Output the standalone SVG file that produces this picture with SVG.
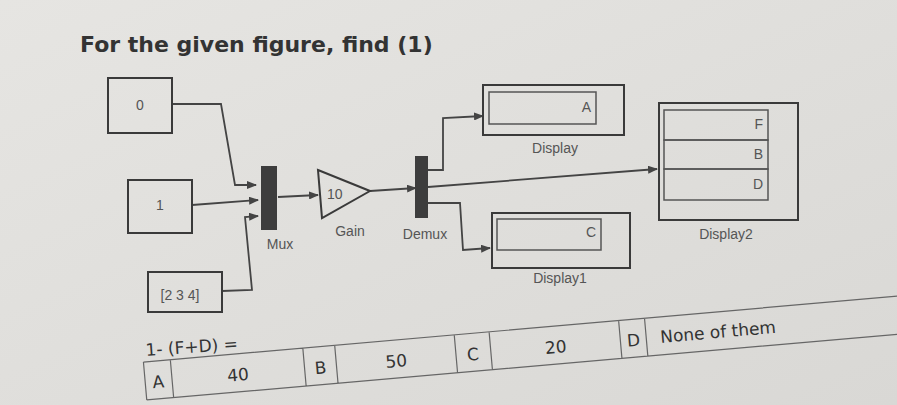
<svg xmlns="http://www.w3.org/2000/svg" width="897" height="405" viewBox="0 0 897 405">
<defs>
<marker id="ar" markerWidth="10" markerHeight="8" refX="9" refY="4" orient="auto" markerUnits="userSpaceOnUse"><path d="M0,0 L10,4 L0,8 Z" fill="#444"/></marker>
<linearGradient id="bg" x1="0" y1="0" x2="1" y2="1"><stop offset="0" stop-color="#e6e5e2"/><stop offset="1" stop-color="#d9d8d5"/></linearGradient>
</defs>
<style>
.b{fill:none;stroke:#3a3a3a;stroke-width:2}
.i{fill:none;stroke:#555;stroke-width:1.5}
.w{stroke:#444;stroke-width:1.8;fill:none}
.t{font-family:"Liberation Sans",Arial,sans-serif;fill:#333}
.s{font-family:"Liberation Sans",Arial,sans-serif;fill:#555;font-size:14px}
.tb{font-family:"DejaVu Sans",sans-serif;fill:#333;font-size:17px}
</style>
<rect width="897" height="405" fill="url(#bg)"/>
<text x="80" y="52" font-size="22" font-weight="bold" fill="#333" style="font-family:'DejaVu Sans',sans-serif">For the given figure, find (1)</text>
<g id="connectors">
<path class="w" d="M172,104 L221,104 L235,185 L256,185" marker-end="url(#ar)"/>
<path class="w" d="M192,205 L258,200" marker-end="url(#ar)"/>
<path class="w" d="M222,291 L252,290 L245,217 L258,216" marker-end="url(#ar)"/>
<path class="w" d="M278,197 L318,195" marker-end="url(#ar)"/>
<path class="w" d="M370,191 L416,188" marker-end="url(#ar)"/>
<path class="w" d="M428,170 L443,170 L443,118 L483,116" marker-end="url(#ar)"/>
<path class="w" d="M428,187 L657,169" marker-end="url(#ar)"/>
<path class="w" d="M428,203 L460,203 L463,250 L490,248" marker-end="url(#ar)"/>
</g>
<g id="const0"><rect x="108" y="78" width="64" height="55" class="b"/><text x="140" y="110" class="s" text-anchor="middle">0</text></g>
<g id="const1"><rect x="128" y="180" width="64" height="53" class="b"/><text x="160" y="210" class="s" text-anchor="middle">1</text></g>
<g id="const234"><rect x="148" y="272" width="74" height="40" class="b"/><text x="180" y="300" class="s" text-anchor="middle" font-size="12">[2 3 4]</text></g>
<g id="mux"><rect x="261" y="166" width="16" height="64" fill="#3d3d3d"/><text x="280" y="249" class="s" font-size="12" fill="#777" text-anchor="middle">Mux</text></g>
<g id="gain"><path d="M318,170 L370,191 L322,218 Z" class="b"/><text x="327" y="199" class="s" font-size="14">10</text><text x="350" y="236" class="s" text-anchor="middle">Gain</text></g>
<g id="demux"><rect x="415" y="156" width="13" height="62" fill="#3d3d3d"/><text x="425" y="239" class="s" font-size="13" text-anchor="middle">Demux</text></g>
<g id="display"><rect x="483" y="85" width="141" height="50" class="b"/><rect x="489" y="92" width="107" height="32" class="i"/><text x="591" y="112" class="s" text-anchor="end">A</text><text x="555" y="153" class="s" text-anchor="middle">Display</text></g>
<g id="display1"><rect x="492" y="213" width="138" height="55" class="b"/><rect x="497" y="219" width="104" height="31" class="i"/><text x="596" y="237" class="s" text-anchor="end">C</text><text x="560" y="283" class="s" text-anchor="middle">Display1</text></g>
<g id="display2"><rect x="659" y="103" width="139" height="117" class="b"/><rect x="664" y="110" width="104" height="30" class="i"/><rect x="664" y="140" width="104" height="29" class="i"/><rect x="664" y="169" width="104" height="31" class="i"/><text x="763" y="129" class="s" text-anchor="end">F</text><text x="763" y="159" class="s" text-anchor="end">B</text><text x="763" y="189" class="s" text-anchor="end">D</text><text x="726" y="239" class="s" text-anchor="middle">Display2</text></g>
<g id="question">
<text x="146" y="356" class="tb" transform="rotate(-4 146 356)">1- (F+D) =</text>
<g transform="rotate(-5 145 380)">
<path d="M145,362 L910,362 M145,400 L910,400 M145,362 L145,400 M172,362 L172,400 M305,362 L305,400 M337,362 L337,400 M457,362 L457,400 M492,362 L492,400 M622,362 L622,400 M648,362 L648,400" stroke="#666" stroke-width="1.2" fill="none"/>
<text x="158" y="389" class="tb" text-anchor="middle">A</text>
<text x="238" y="389" class="tb" text-anchor="middle">40</text>
<text x="321" y="389" class="tb" text-anchor="middle">B</text>
<text x="397" y="389" class="tb" text-anchor="middle">50</text>
<text x="474" y="389" class="tb" text-anchor="middle">C</text>
<text x="557" y="389" class="tb" text-anchor="middle">20</text>
<text x="635" y="389" class="tb" text-anchor="middle">D</text>
<text x="662" y="388" class="tb">None of them</text>
</g>
</g>
</svg>
